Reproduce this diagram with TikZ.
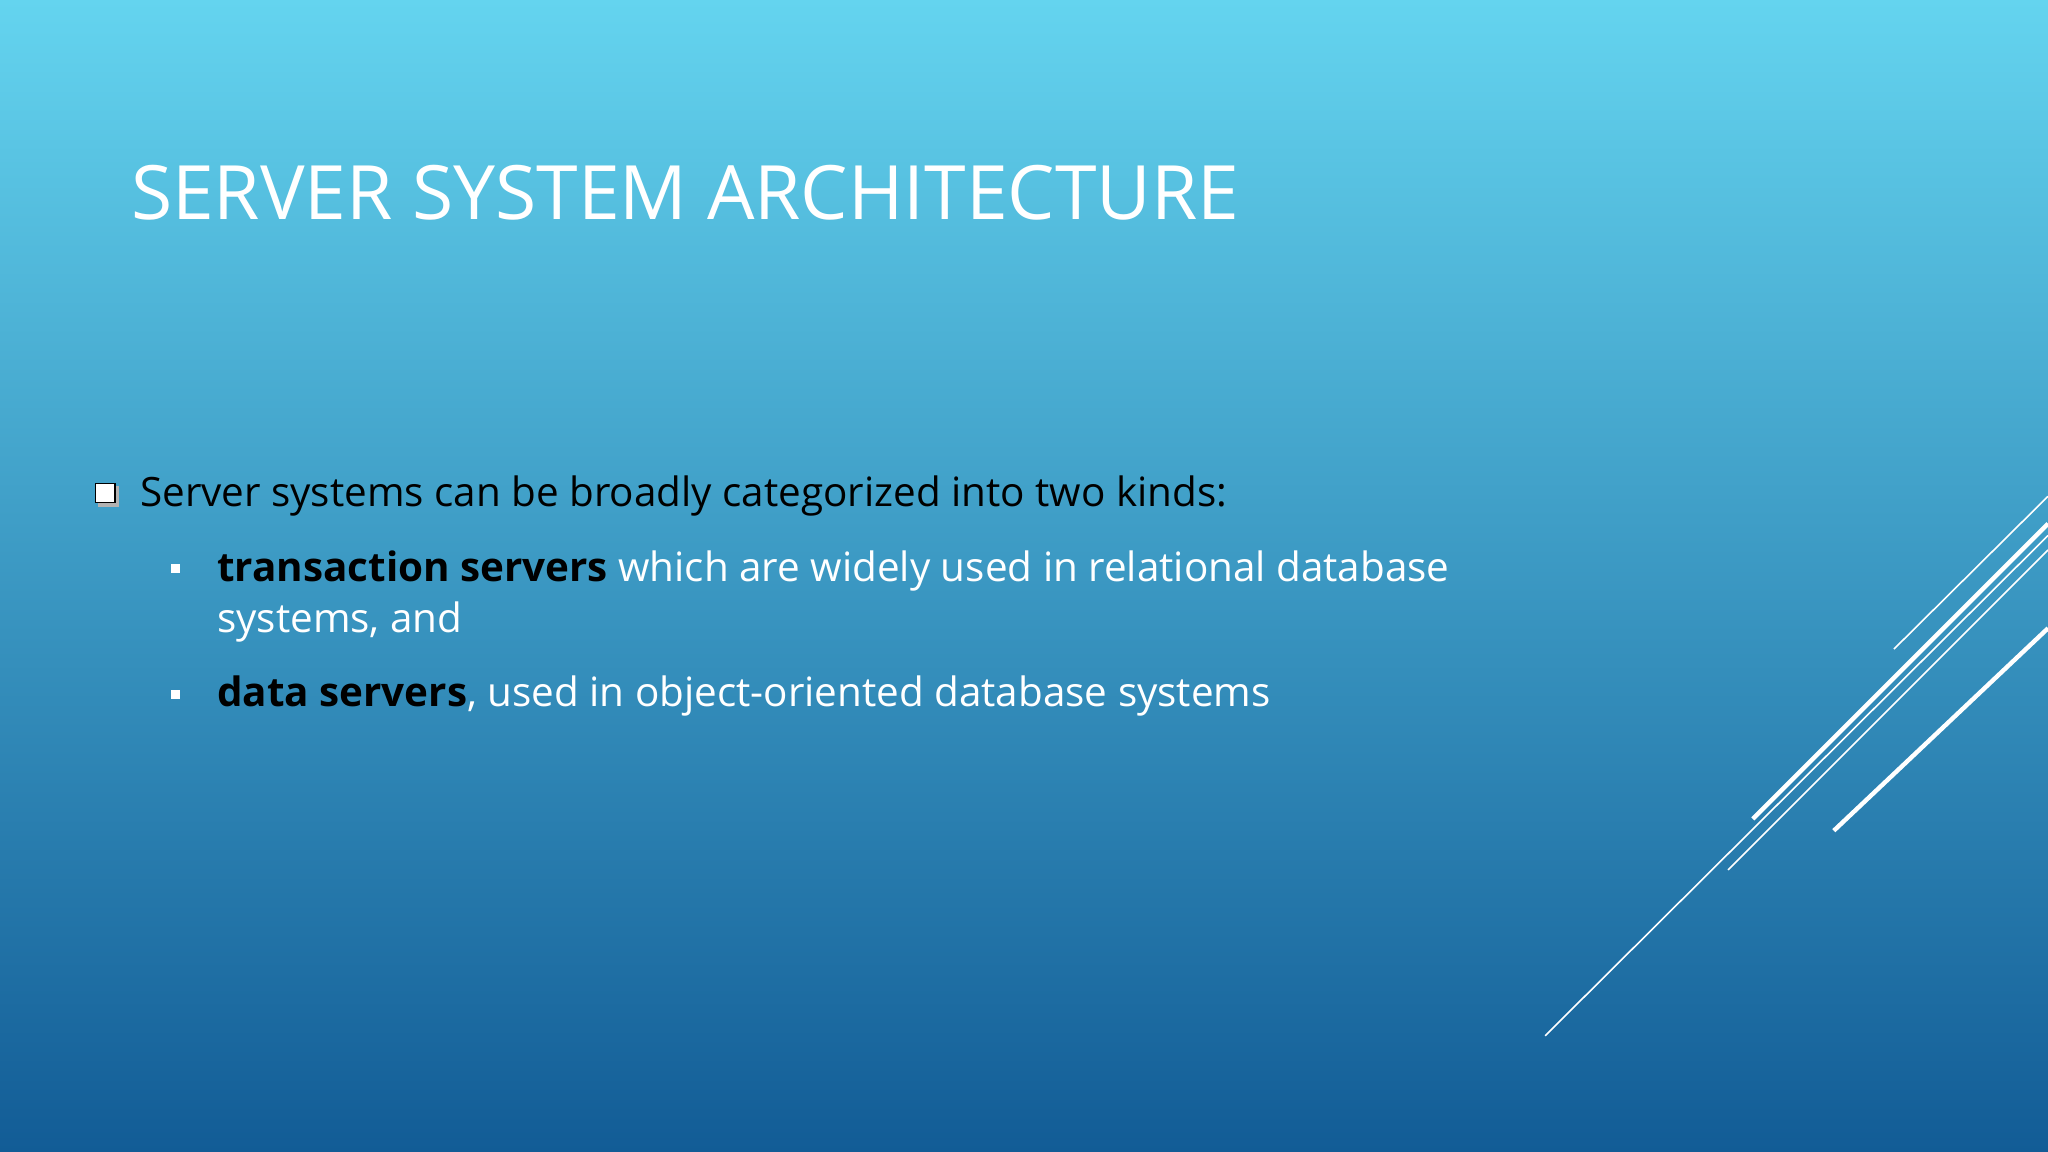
\documentclass[tikz,border=0pt]{standalone}
\usepackage{fontspec}
\setmainfont{Open Sans}
\begin{document}
\begin{tikzpicture}[x=0.653pt,y=-0.653pt,
  body/.style={anchor=base west,inner sep=0pt,font=\fontsize{20.2}{24}\selectfont},
  thin/.style={draw=white,line width=0.8pt},
  thick/.style={draw=white,line width=2.2pt}]
\shade[top color={rgb,255:red,100;green,212;blue,239},bottom color={rgb,255:red,18;green,92;blue,150}] (0,0) rectangle (1568,882);
\useasboundingbox (0,0) rectangle (1568,882);
\node[body,text=white,font=\fontsize{37.5}{44}\selectfont] (title) at (100,168) {SERVER SYSTEM ARCHITECTURE};
\node[body,text=black] (l1) at (107,388) {Server systems can be broadly categorized into two kinds:};
\fill[gray!60] (75,372) rectangle (91,388);
\fill[white] (73,370) rectangle (88,385);
\draw[black,line width=0.6pt] (73,370) rectangle (88,385);
\node[body,text=white] (l2) at (166,445) {\textbf{\color{black}transaction servers} which are widely used in relational database};
\node[body,text=white] (l3) at (166,484) {systems, and};
\node[body,text=white] (l4) at (166,541) {\textbf{\color{black}data servers}, used in object-oriented database systems};
\fill[white] (131,432) rectangle (138,439);
\fill[white] (131,528) rectangle (138,535);
\draw[thin] (1450,497) -- (1568,380);
\draw[thick] (1342,627) -- (1568,401);
\draw[thin] (1323,666) -- (1568,421);
\draw[thick] (1404,636) -- (1568,481);
\draw[thin] (1183,793) -- (1568,410);
\end{tikzpicture}
\end{document}
